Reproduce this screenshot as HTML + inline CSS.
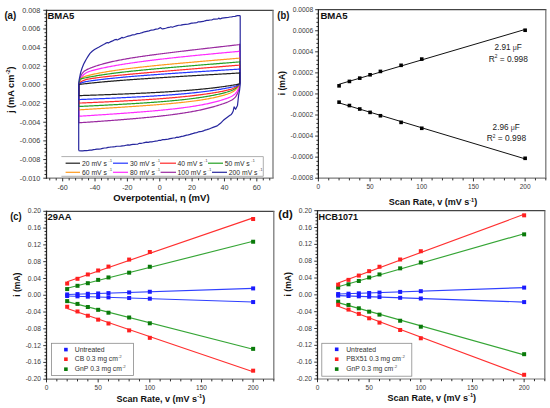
<!DOCTYPE html>
<html><head><meta charset="utf-8"><style>
html,body{margin:0;padding:0;background:#fff;}
svg{display:block;font-family:"Liberation Sans", sans-serif;}
</style></head><body>
<svg width="550" height="408" viewBox="0 0 550 408">
<rect width="550" height="408" fill="#fff"/>
<path d="M46.5 10.3H273.6" stroke="#444" stroke-width="1.2" fill="none"/>
<path d="M273 10.3V178.2" stroke="#7a7a7a" stroke-width="1.3" fill="none"/>
<path d="M46.5 178.2H273.6" stroke="#7a7a7a" stroke-width="1.2" fill="none"/>
<path d="M46.5 9.7V178.8" stroke="#222" stroke-width="1.25" fill="none"/>
<text x="40.3" y="180.58" font-size="7.9" text-anchor="end" font-weight="normal" fill="#3a3a3a" textLength="20.55" lengthAdjust="spacingAndGlyphs">-0.010</text>
<text x="40.3" y="161.92" font-size="7.9" text-anchor="end" font-weight="normal" fill="#3a3a3a" textLength="20.55" lengthAdjust="spacingAndGlyphs">-0.008</text>
<text x="40.3" y="143.27" font-size="7.9" text-anchor="end" font-weight="normal" fill="#3a3a3a" textLength="20.55" lengthAdjust="spacingAndGlyphs">-0.006</text>
<text x="40.3" y="124.61" font-size="7.9" text-anchor="end" font-weight="normal" fill="#3a3a3a" textLength="20.55" lengthAdjust="spacingAndGlyphs">-0.004</text>
<text x="40.3" y="105.96" font-size="7.9" text-anchor="end" font-weight="normal" fill="#3a3a3a" textLength="20.55" lengthAdjust="spacingAndGlyphs">-0.002</text>
<text x="40.3" y="87.3" font-size="7.9" text-anchor="end" font-weight="normal" fill="#3a3a3a" textLength="18.14" lengthAdjust="spacingAndGlyphs">0.000</text>
<text x="40.3" y="68.64" font-size="7.9" text-anchor="end" font-weight="normal" fill="#3a3a3a" textLength="18.14" lengthAdjust="spacingAndGlyphs">0.002</text>
<text x="40.3" y="49.99" font-size="7.9" text-anchor="end" font-weight="normal" fill="#3a3a3a" textLength="18.14" lengthAdjust="spacingAndGlyphs">0.004</text>
<text x="40.3" y="31.33" font-size="7.9" text-anchor="end" font-weight="normal" fill="#3a3a3a" textLength="18.14" lengthAdjust="spacingAndGlyphs">0.006</text>
<text x="40.3" y="12.68" font-size="7.9" text-anchor="end" font-weight="normal" fill="#3a3a3a" textLength="18.14" lengthAdjust="spacingAndGlyphs">0.008</text>
<path d="M43.3 178.2H46.5M44.5 174.47H46.5M44.5 170.74H46.5M44.5 167.01H46.5M44.5 163.28H46.5M43.3 159.54H46.5M44.5 155.81H46.5M44.5 152.08H46.5M44.5 148.35H46.5M44.5 144.62H46.5M43.3 140.89H46.5M44.5 137.16H46.5M44.5 133.43H46.5M44.5 129.7H46.5M44.5 125.96H46.5M43.3 122.23H46.5M44.5 118.5H46.5M44.5 114.77H46.5M44.5 111.04H46.5M44.5 107.31H46.5M43.3 103.58H46.5M44.5 99.85H46.5M44.5 96.12H46.5M44.5 92.38H46.5M44.5 88.65H46.5M43.3 84.92H46.5M44.5 81.19H46.5M44.5 77.46H46.5M44.5 73.73H46.5M44.5 70H46.5M43.3 66.27H46.5M44.5 62.54H46.5M44.5 58.8H46.5M44.5 55.07H46.5M44.5 51.34H46.5M43.3 47.61H46.5M44.5 43.88H46.5M44.5 40.15H46.5M44.5 36.42H46.5M44.5 32.69H46.5M43.3 28.96H46.5M44.5 25.22H46.5M44.5 21.49H46.5M44.5 17.76H46.5M44.5 14.03H46.5M43.3 10.3H46.5" stroke="#1a1a1a" stroke-width="0.9"/>
<text x="57.48" y="189.9" font-size="7.8" text-anchor="start" font-weight="normal" fill="#3a3a3a" textLength="10.4" lengthAdjust="spacingAndGlyphs">-60</text>
<text x="89.83" y="189.9" font-size="7.8" text-anchor="start" font-weight="normal" fill="#3a3a3a" textLength="10.4" lengthAdjust="spacingAndGlyphs">-40</text>
<text x="122.19" y="189.9" font-size="7.8" text-anchor="start" font-weight="normal" fill="#3a3a3a" textLength="10.4" lengthAdjust="spacingAndGlyphs">-20</text>
<text x="157.75" y="189.9" font-size="7.8" text-anchor="start" font-weight="normal" fill="#3a3a3a" textLength="4" lengthAdjust="spacingAndGlyphs">0</text>
<text x="188.1" y="189.9" font-size="7.8" text-anchor="start" font-weight="normal" fill="#3a3a3a" textLength="8.01" lengthAdjust="spacingAndGlyphs">20</text>
<text x="220.46" y="189.9" font-size="7.8" text-anchor="start" font-weight="normal" fill="#3a3a3a" textLength="8.01" lengthAdjust="spacingAndGlyphs">40</text>
<text x="252.82" y="189.9" font-size="7.8" text-anchor="start" font-weight="normal" fill="#3a3a3a" textLength="8.01" lengthAdjust="spacingAndGlyphs">60</text>
<path d="M62.68 178.2V181.4M95.04 178.2V181.4M127.39 178.2V181.4M159.75 178.2V181.4M192.11 178.2V181.4M224.46 178.2V181.4M256.82 178.2V181.4M49.74 178.2V180.4M56.21 178.2V180.4M69.15 178.2V180.4M75.62 178.2V180.4M82.09 178.2V180.4M88.56 178.2V180.4M101.51 178.2V180.4M107.98 178.2V180.4M114.45 178.2V180.4M120.92 178.2V180.4M133.86 178.2V180.4M140.34 178.2V180.4M146.81 178.2V180.4M153.28 178.2V180.4M166.22 178.2V180.4M172.69 178.2V180.4M179.16 178.2V180.4M185.64 178.2V180.4M198.58 178.2V180.4M205.05 178.2V180.4M211.52 178.2V180.4M217.99 178.2V180.4M230.94 178.2V180.4M237.41 178.2V180.4M243.88 178.2V180.4M250.35 178.2V180.4M263.29 178.2V180.4M269.76 178.2V180.4" stroke="#1a1a1a" stroke-width="0.9"/>
<polyline points="78.8,122.79 78.8,84.5 79.81,79.32 80.82,76.09 81.83,74.01 82.84,72.59 83.84,71.57 84.85,70.79 85.86,70.16 86.87,69.61 87.88,69.13 88.89,68.68 89.9,68.26 90.91,67.86 91.91,67.47 92.92,67.1 93.93,66.74 94.94,66.39 95.95,66.05 96.96,65.73 97.97,65.41 98.98,65.1 99.98,64.79 100.99,64.5 102,64.21 103.01,63.93 104.02,63.65 105.03,63.39 106.04,63.13 107.05,62.87 108.06,62.62 109.06,62.38 110.07,62.14 111.08,61.9 112.09,61.68 113.1,61.45 114.11,61.23 115.12,61.02 116.13,60.8 117.13,60.6 118.14,60.39 119.15,60.19 120.16,60 121.17,59.81 122.18,59.62 123.19,59.43 124.2,59.25 125.21,59.06 126.21,58.89 127.22,58.71 128.23,58.54 129.24,58.37 130.25,58.2 131.26,58.03 132.27,57.87 133.28,57.71 134.28,57.55 135.29,57.39 136.3,57.23 137.31,57.08 138.32,56.93 139.33,56.77 140.34,56.63 141.35,56.48 142.35,56.33 143.36,56.18 144.37,56.04 145.38,55.9 146.39,55.76 147.4,55.62 148.41,55.48 149.42,55.34 150.43,55.2 151.43,55.06 152.44,54.93 153.45,54.79 154.46,54.66 155.47,54.53 156.48,54.39 157.49,54.26 158.5,54.13 159.5,54 160.51,53.87 161.52,53.74 162.53,53.62 163.54,53.49 164.55,53.36 165.56,53.23 166.57,53.11 167.57,52.98 168.58,52.86 169.59,52.73 170.6,52.61 171.61,52.49 172.62,52.36 173.63,52.24 174.64,52.12 175.65,51.99 176.65,51.87 177.66,51.75 178.67,51.63 179.68,51.51 180.69,51.39 181.7,51.27 182.71,51.15 183.72,51.03 184.72,50.91 185.73,50.79 186.74,50.67 187.75,50.55 188.76,50.43 189.77,50.32 190.78,50.2 191.79,50.08 192.79,49.96 193.8,49.84 194.81,49.73 195.82,49.61 196.83,49.49 197.84,49.37 198.85,49.26 199.86,49.14 200.87,49.02 201.87,48.91 202.88,48.79 203.89,48.67 204.9,48.56 205.91,48.44 206.92,48.33 207.93,48.21 208.94,48.09 209.94,47.98 210.95,47.86 211.96,47.75 212.97,47.63 213.98,47.52 214.99,47.4 216,47.29 217.01,47.17 218.02,47.06 219.02,46.94 220.03,46.83 221.04,46.71 222.05,46.6 223.06,46.48 224.07,46.37 225.08,46.25 226.09,46.14 227.09,46.02 228.1,45.91 229.11,45.79 230.12,45.68 231.13,45.56 232.14,45.45 233.15,45.33 234.16,45.22 235.16,45.1 236.17,44.99 237.18,44.88 238.19,44.76 239.2,44.65 239.7,44.15 239.7,83 239.4,86.47 238.39,90.72 237.38,93.61 236.37,95.63 235.36,97.08 234.35,98.16 233.34,99.02 232.33,99.71 231.32,100.31 230.31,100.83 229.3,101.31 228.29,101.76 227.28,102.18 226.27,102.58 225.26,102.96 224.25,103.34 223.24,103.7 222.23,104.05 221.22,104.39 220.21,104.73 219.2,105.05 218.19,105.37 217.18,105.68 216.17,105.99 215.16,106.29 214.15,106.58 213.14,106.86 212.13,107.14 211.12,107.41 210.11,107.68 209.1,107.94 208.09,108.19 207.08,108.44 206.07,108.69 205.06,108.93 204.05,109.16 203.04,109.39 202.03,109.62 201.02,109.84 200.01,110.05 199,110.26 197.99,110.47 196.98,110.67 195.97,110.87 194.96,111.07 193.95,111.26 192.94,111.45 191.93,111.63 190.92,111.82 189.91,111.99 188.9,112.17 187.89,112.34 186.88,112.51 185.87,112.67 184.86,112.84 183.85,113 182.84,113.15 181.83,113.31 180.82,113.46 179.81,113.61 178.8,113.76 177.79,113.9 176.78,114.05 175.77,114.19 174.76,114.32 173.75,114.46 172.74,114.59 171.73,114.73 170.72,114.86 169.71,114.98 168.7,115.11 167.69,115.24 166.68,115.36 165.67,115.48 164.66,115.6 163.65,115.72 162.64,115.83 161.63,115.95 160.62,116.06 159.61,116.18 158.59,116.29 157.58,116.4 156.57,116.5 155.56,116.61 154.55,116.72 153.54,116.82 152.53,116.93 151.52,117.03 150.51,117.13 149.5,117.23 148.49,117.33 147.48,117.43 146.47,117.52 145.46,117.62 144.45,117.72 143.44,117.81 142.43,117.91 141.42,118 140.41,118.09 139.4,118.18 138.39,118.27 137.38,118.36 136.37,118.45 135.36,118.54 134.35,118.63 133.34,118.71 132.33,118.8 131.32,118.89 130.31,118.97 129.3,119.05 128.29,119.14 127.28,119.22 126.27,119.3 125.26,119.39 124.25,119.47 123.24,119.55 122.23,119.63 121.22,119.71 120.21,119.79 119.2,119.87 118.19,119.95 117.18,120.03 116.17,120.11 115.16,120.18 114.15,120.26 113.14,120.34 112.13,120.41 111.12,120.49 110.11,120.57 109.1,120.64 108.09,120.72 107.08,120.79 106.07,120.87 105.06,120.94 104.05,121.02 103.04,121.09 102.03,121.16 101.02,121.24 100.01,121.31 99,121.38 97.99,121.45 96.98,121.53 95.97,121.6 94.96,121.67 93.95,121.74 92.94,121.81 91.93,121.88 90.92,121.95 89.91,122.03 88.9,122.1 87.89,122.17 86.88,122.24 85.87,122.31 84.86,122.38 83.85,122.45 82.84,122.52 81.83,122.58 80.82,122.65 79.81,122.72 78.8,122.79" fill="none" stroke="#9a2aa0" stroke-width="1.2" stroke-linejoin="round"/>
<polyline points="78.8,116.28 78.8,84.5 79.81,81.15 80.82,78.7 81.83,76.9 82.84,75.54 83.84,74.5 84.85,73.69 85.86,73.03 86.87,72.49 87.88,72.03 88.89,71.64 89.9,71.28 90.91,70.95 91.91,70.65 92.92,70.37 93.93,70.1 94.94,69.84 95.95,69.58 96.96,69.34 97.97,69.1 98.98,68.87 99.98,68.64 100.99,68.42 102,68.2 103.01,67.98 104.02,67.77 105.03,67.56 106.04,67.35 107.05,67.15 108.06,66.95 109.06,66.75 110.07,66.56 111.08,66.37 112.09,66.18 113.1,65.99 114.11,65.81 115.12,65.63 116.13,65.45 117.13,65.27 118.14,65.1 119.15,64.93 120.16,64.76 121.17,64.59 122.18,64.42 123.19,64.26 124.2,64.1 125.21,63.94 126.21,63.78 127.22,63.63 128.23,63.47 129.24,63.32 130.25,63.17 131.26,63.02 132.27,62.87 133.28,62.72 134.28,62.58 135.29,62.43 136.3,62.29 137.31,62.15 138.32,62.01 139.33,61.87 140.34,61.74 141.35,61.6 142.35,61.47 143.36,61.33 144.37,61.2 145.38,61.07 146.39,60.94 147.4,60.81 148.41,60.69 149.42,60.56 150.43,60.43 151.43,60.31 152.44,60.18 153.45,60.06 154.46,59.94 155.47,59.82 156.48,59.7 157.49,59.58 158.5,59.46 159.5,59.34 160.51,59.22 161.52,59.11 162.53,58.99 163.54,58.88 164.55,58.76 165.56,58.65 166.57,58.53 167.57,58.42 168.58,58.31 169.59,58.2 170.6,58.09 171.61,57.98 172.62,57.87 173.63,57.76 174.64,57.65 175.65,57.54 176.65,57.43 177.66,57.33 178.67,57.22 179.68,57.11 180.69,57.01 181.7,56.9 182.71,56.8 183.72,56.69 184.72,56.59 185.73,56.48 186.74,56.38 187.75,56.28 188.76,56.18 189.77,56.07 190.78,55.97 191.79,55.87 192.79,55.77 193.8,55.67 194.81,55.57 195.82,55.47 196.83,55.37 197.84,55.27 198.85,55.17 199.86,55.07 200.87,54.97 201.87,54.87 202.88,54.77 203.89,54.67 204.9,54.57 205.91,54.48 206.92,54.38 207.93,54.28 208.94,54.18 209.94,54.09 210.95,53.99 211.96,53.89 212.97,53.8 213.98,53.7 214.99,53.6 216,53.51 217.01,53.41 218.02,53.32 219.02,53.22 220.03,53.13 221.04,53.03 222.05,52.94 223.06,52.84 224.07,52.75 225.08,52.65 226.09,52.56 227.09,52.46 228.1,52.37 229.11,52.28 230.12,52.18 231.13,52.09 232.14,51.99 233.15,51.9 234.16,51.81 235.16,51.71 236.17,51.62 237.18,51.53 238.19,51.44 239.2,51.34 239.7,50.84 239.7,83 239.4,85.49 238.39,88.63 237.38,90.84 236.37,92.45 235.36,93.65 234.35,94.58 233.34,95.32 232.33,95.95 231.32,96.49 230.31,96.97 229.3,97.41 228.29,97.82 227.28,98.21 226.27,98.58 225.26,98.93 224.25,99.27 223.24,99.6 222.23,99.91 221.22,100.22 220.21,100.52 219.2,100.81 218.19,101.1 217.18,101.38 216.17,101.64 215.16,101.91 214.15,102.16 213.14,102.41 212.13,102.66 211.12,102.9 210.11,103.13 209.1,103.35 208.09,103.58 207.08,103.79 206.07,104 205.06,104.21 204.05,104.41 203.04,104.61 202.03,104.8 201.02,104.99 200.01,105.17 199,105.35 197.99,105.53 196.98,105.7 195.97,105.87 194.96,106.04 193.95,106.2 192.94,106.36 191.93,106.52 190.92,106.67 189.91,106.82 188.9,106.97 187.89,107.11 186.88,107.25 185.87,107.39 184.86,107.53 183.85,107.66 182.84,107.8 181.83,107.93 180.82,108.05 179.81,108.18 178.8,108.3 177.79,108.42 176.78,108.54 175.77,108.66 174.76,108.78 173.75,108.89 172.74,109 171.73,109.12 170.72,109.22 169.71,109.33 168.7,109.44 167.69,109.54 166.68,109.65 165.67,109.75 164.66,109.85 163.65,109.95 162.64,110.05 161.63,110.15 160.62,110.24 159.61,110.34 158.59,110.43 157.58,110.53 156.57,110.62 155.56,110.71 154.55,110.8 153.54,110.89 152.53,110.98 151.52,111.07 150.51,111.15 149.5,111.24 148.49,111.33 147.48,111.41 146.47,111.49 145.46,111.58 144.45,111.66 143.44,111.74 142.43,111.82 141.42,111.91 140.41,111.99 139.4,112.07 138.39,112.14 137.38,112.22 136.37,112.3 135.36,112.38 134.35,112.46 133.34,112.53 132.33,112.61 131.32,112.69 130.31,112.76 129.3,112.84 128.29,112.91 127.28,112.98 126.27,113.06 125.26,113.13 124.25,113.21 123.24,113.28 122.23,113.35 121.22,113.42 120.21,113.5 119.2,113.57 118.19,113.64 117.18,113.71 116.17,113.78 115.16,113.85 114.15,113.92 113.14,113.99 112.13,114.06 111.12,114.13 110.11,114.2 109.1,114.27 108.09,114.34 107.08,114.41 106.07,114.48 105.06,114.55 104.05,114.62 103.04,114.68 102.03,114.75 101.02,114.82 100.01,114.89 99,114.96 97.99,115.02 96.98,115.09 95.97,115.16 94.96,115.22 93.95,115.29 92.94,115.36 91.93,115.42 90.92,115.49 89.91,115.56 88.9,115.62 87.89,115.69 86.88,115.76 85.87,115.82 84.86,115.89 83.85,115.96 82.84,116.02 81.83,116.09 80.82,116.15 79.81,116.22 78.8,116.28" fill="none" stroke="#ff2cff" stroke-width="1.2" stroke-linejoin="round"/>
<polyline points="78.8,109.87 78.8,84.5 79.81,81.16 80.82,79.25 81.83,78.1 82.84,77.36 83.84,76.84 84.85,76.45 85.86,76.12 86.87,75.83 87.88,75.56 88.89,75.31 89.9,75.07 90.91,74.84 91.91,74.61 92.92,74.39 93.93,74.17 94.94,73.96 95.95,73.75 96.96,73.55 97.97,73.35 98.98,73.15 99.98,72.96 100.99,72.77 102,72.58 103.01,72.4 104.02,72.22 105.03,72.04 106.04,71.87 107.05,71.7 108.06,71.53 109.06,71.36 110.07,71.2 111.08,71.04 112.09,70.88 113.1,70.73 114.11,70.57 115.12,70.42 116.13,70.27 117.13,70.13 118.14,69.98 119.15,69.84 120.16,69.7 121.17,69.56 122.18,69.42 123.19,69.29 124.2,69.16 125.21,69.02 126.21,68.89 127.22,68.76 128.23,68.64 129.24,68.51 130.25,68.39 131.26,68.26 132.27,68.14 133.28,68.02 134.28,67.9 135.29,67.78 136.3,67.66 137.31,67.55 138.32,67.43 139.33,67.32 140.34,67.21 141.35,67.09 142.35,66.98 143.36,66.87 144.37,66.76 145.38,66.65 146.39,66.55 147.4,66.44 148.41,66.33 149.42,66.23 150.43,66.12 151.43,66.02 152.44,65.91 153.45,65.81 154.46,65.71 155.47,65.61 156.48,65.51 157.49,65.41 158.5,65.31 159.5,65.21 160.51,65.11 161.52,65.01 162.53,64.91 163.54,64.81 164.55,64.72 165.56,64.62 166.57,64.52 167.57,64.43 168.58,64.33 169.59,64.24 170.6,64.14 171.61,64.05 172.62,63.96 173.63,63.86 174.64,63.77 175.65,63.68 176.65,63.58 177.66,63.49 178.67,63.4 179.68,63.31 180.69,63.22 181.7,63.13 182.71,63.03 183.72,62.94 184.72,62.85 185.73,62.76 186.74,62.67 187.75,62.58 188.76,62.49 189.77,62.4 190.78,62.32 191.79,62.23 192.79,62.14 193.8,62.05 194.81,61.96 195.82,61.87 196.83,61.78 197.84,61.7 198.85,61.61 199.86,61.52 200.87,61.43 201.87,61.35 202.88,61.26 203.89,61.17 204.9,61.09 205.91,61 206.92,60.91 207.93,60.82 208.94,60.74 209.94,60.65 210.95,60.57 211.96,60.48 212.97,60.39 213.98,60.31 214.99,60.22 216,60.14 217.01,60.05 218.02,59.96 219.02,59.88 220.03,59.79 221.04,59.71 222.05,59.62 223.06,59.54 224.07,59.45 225.08,59.37 226.09,59.28 227.09,59.2 228.1,59.11 229.11,59.03 230.12,58.94 231.13,58.86 232.14,58.77 233.15,58.69 234.16,58.6 235.16,58.52 236.17,58.43 237.18,58.35 238.19,58.26 239.2,58.18 239.7,57.68 239.7,83 239.4,84.38 238.39,86.27 237.38,87.75 236.37,88.94 235.36,89.91 234.35,90.71 233.34,91.38 232.33,91.97 231.32,92.48 230.31,92.94 229.3,93.36 228.29,93.75 227.28,94.11 226.27,94.44 225.26,94.76 224.25,95.07 223.24,95.36 222.23,95.64 221.22,95.92 220.21,96.18 219.2,96.43 218.19,96.68 217.18,96.92 216.17,97.15 215.16,97.37 214.15,97.59 213.14,97.8 212.13,98.01 211.12,98.21 210.11,98.41 209.1,98.6 208.09,98.79 207.08,98.97 206.07,99.15 205.06,99.33 204.05,99.5 203.04,99.66 202.03,99.82 201.02,99.98 200.01,100.14 199,100.29 197.99,100.44 196.98,100.58 195.97,100.72 194.96,100.86 193.95,101 192.94,101.13 191.93,101.26 190.92,101.39 189.91,101.52 188.9,101.64 187.89,101.76 186.88,101.88 185.87,102 184.86,102.11 183.85,102.23 182.84,102.34 181.83,102.45 180.82,102.55 179.81,102.66 178.8,102.76 177.79,102.87 176.78,102.97 175.77,103.07 174.76,103.17 173.75,103.26 172.74,103.36 171.73,103.45 170.72,103.54 169.71,103.64 168.7,103.73 167.69,103.82 166.68,103.91 165.67,103.99 164.66,104.08 163.65,104.16 162.64,104.25 161.63,104.33 160.62,104.42 159.61,104.5 158.59,104.58 157.58,104.66 156.57,104.74 155.56,104.82 154.55,104.9 153.54,104.98 152.53,105.05 151.52,105.13 150.51,105.2 149.5,105.28 148.49,105.35 147.48,105.43 146.47,105.5 145.46,105.58 144.45,105.65 143.44,105.72 142.43,105.79 141.42,105.86 140.41,105.94 139.4,106.01 138.39,106.08 137.38,106.15 136.37,106.22 135.36,106.29 134.35,106.35 133.34,106.42 132.33,106.49 131.32,106.56 130.31,106.63 129.3,106.69 128.29,106.76 127.28,106.83 126.27,106.9 125.26,106.96 124.25,107.03 123.24,107.09 122.23,107.16 121.22,107.23 120.21,107.29 119.2,107.36 118.19,107.42 117.18,107.49 116.17,107.55 115.16,107.61 114.15,107.68 113.14,107.74 112.13,107.81 111.12,107.87 110.11,107.94 109.1,108 108.09,108.06 107.08,108.13 106.07,108.19 105.06,108.25 104.05,108.32 103.04,108.38 102.03,108.44 101.02,108.5 100.01,108.57 99,108.63 97.99,108.69 96.98,108.75 95.97,108.82 94.96,108.88 93.95,108.94 92.94,109 91.93,109.06 90.92,109.13 89.91,109.19 88.9,109.25 87.89,109.31 86.88,109.37 85.87,109.44 84.86,109.5 83.85,109.56 82.84,109.62 81.83,109.68 80.82,109.74 79.81,109.8 78.8,109.87" fill="none" stroke="#ff9a1e" stroke-width="1.2" stroke-linejoin="round"/>
<polyline points="78.8,106.47 78.8,84.5 79.81,79.28 80.82,78.87 81.83,78.63 82.84,78.41 83.84,78.19 84.85,77.97 85.86,77.76 86.87,77.55 87.88,77.35 88.89,77.15 89.9,76.96 90.91,76.77 91.91,76.58 92.92,76.4 93.93,76.22 94.94,76.04 95.95,75.87 96.96,75.7 97.97,75.53 98.98,75.37 99.98,75.21 100.99,75.05 102,74.89 103.01,74.74 104.02,74.59 105.03,74.44 106.04,74.29 107.05,74.15 108.06,74.01 109.06,73.87 110.07,73.73 111.08,73.6 112.09,73.46 113.1,73.33 114.11,73.2 115.12,73.07 116.13,72.95 117.13,72.82 118.14,72.7 119.15,72.58 120.16,72.46 121.17,72.34 122.18,72.22 123.19,72.1 124.2,71.99 125.21,71.87 126.21,71.76 127.22,71.65 128.23,71.54 129.24,71.43 130.25,71.32 131.26,71.21 132.27,71.1 133.28,71 134.28,70.89 135.29,70.79 136.3,70.69 137.31,70.58 138.32,70.48 139.33,70.38 140.34,70.28 141.35,70.18 142.35,70.08 143.36,69.98 144.37,69.89 145.38,69.79 146.39,69.69 147.4,69.6 148.41,69.5 149.42,69.41 150.43,69.31 151.43,69.22 152.44,69.13 153.45,69.04 154.46,68.94 155.47,68.85 156.48,68.76 157.49,68.67 158.5,68.58 159.5,68.49 160.51,68.4 161.52,68.31 162.53,68.22 163.54,68.13 164.55,68.04 165.56,67.95 166.57,67.87 167.57,67.78 168.58,67.69 169.59,67.61 170.6,67.52 171.61,67.43 172.62,67.35 173.63,67.26 174.64,67.17 175.65,67.09 176.65,67 177.66,66.92 178.67,66.83 179.68,66.75 180.69,66.66 181.7,66.58 182.71,66.5 183.72,66.41 184.72,66.33 185.73,66.24 186.74,66.16 187.75,66.08 188.76,65.99 189.77,65.91 190.78,65.83 191.79,65.75 192.79,65.66 193.8,65.58 194.81,65.5 195.82,65.41 196.83,65.33 197.84,65.25 198.85,65.17 199.86,65.09 200.87,65 201.87,64.92 202.88,64.84 203.89,64.76 204.9,64.68 205.91,64.6 206.92,64.52 207.93,64.43 208.94,64.35 209.94,64.27 210.95,64.19 211.96,64.11 212.97,64.03 213.98,63.95 214.99,63.87 216,63.79 217.01,63.71 218.02,63.62 219.02,63.54 220.03,63.46 221.04,63.38 222.05,63.3 223.06,63.22 224.07,63.14 225.08,63.06 226.09,62.98 227.09,62.9 228.1,62.82 229.11,62.74 230.12,62.66 231.13,62.58 232.14,62.5 233.15,62.42 234.16,62.34 235.16,62.26 236.17,62.18 237.18,62.1 238.19,62.02 239.2,61.94 239.7,61.44 239.7,83 239.4,84.07 238.39,85.55 237.38,86.73 236.37,87.68 235.36,88.47 234.35,89.12 233.34,89.68 232.33,90.17 231.32,90.61 230.31,91 229.3,91.35 228.29,91.68 227.28,92 226.27,92.29 225.26,92.57 224.25,92.84 223.24,93.09 222.23,93.34 221.22,93.58 220.21,93.82 219.2,94.05 218.19,94.27 217.18,94.49 216.17,94.7 215.16,94.91 214.15,95.11 213.14,95.3 212.13,95.5 211.12,95.69 210.11,95.87 209.1,96.05 208.09,96.23 207.08,96.4 206.07,96.57 205.06,96.74 204.05,96.9 203.04,97.06 202.03,97.22 201.02,97.37 200.01,97.52 199,97.67 197.99,97.82 196.98,97.96 195.97,98.1 194.96,98.24 193.95,98.37 192.94,98.5 191.93,98.63 190.92,98.76 189.91,98.88 188.9,99.01 187.89,99.13 186.88,99.24 185.87,99.36 184.86,99.48 183.85,99.59 182.84,99.7 181.83,99.81 180.82,99.91 179.81,100.02 178.8,100.12 177.79,100.23 176.78,100.33 175.77,100.42 174.76,100.52 173.75,100.62 172.74,100.71 171.73,100.81 170.72,100.9 169.71,100.99 168.7,101.08 167.69,101.16 166.68,101.25 165.67,101.34 164.66,101.42 163.65,101.5 162.64,101.59 161.63,101.67 160.62,101.75 159.61,101.83 158.59,101.91 157.58,101.98 156.57,102.06 155.56,102.14 154.55,102.21 153.54,102.28 152.53,102.36 151.52,102.43 150.51,102.5 149.5,102.57 148.49,102.64 147.48,102.71 146.47,102.78 145.46,102.85 144.45,102.91 143.44,102.98 142.43,103.05 141.42,103.11 140.41,103.18 139.4,103.24 138.39,103.31 137.38,103.37 136.37,103.43 135.36,103.49 134.35,103.56 133.34,103.62 132.33,103.68 131.32,103.74 130.31,103.8 129.3,103.86 128.29,103.92 127.28,103.97 126.27,104.03 125.26,104.09 124.25,104.15 123.24,104.2 122.23,104.26 121.22,104.32 120.21,104.37 119.2,104.43 118.19,104.49 117.18,104.54 116.17,104.59 115.16,104.65 114.15,104.7 113.14,104.76 112.13,104.81 111.12,104.86 110.11,104.92 109.1,104.97 108.09,105.02 107.08,105.08 106.07,105.13 105.06,105.18 104.05,105.23 103.04,105.28 102.03,105.33 101.02,105.39 100.01,105.44 99,105.49 97.99,105.54 96.98,105.59 95.97,105.64 94.96,105.69 93.95,105.74 92.94,105.79 91.93,105.84 90.92,105.89 89.91,105.94 88.9,105.99 87.89,106.03 86.88,106.08 85.87,106.13 84.86,106.18 83.85,106.23 82.84,106.28 81.83,106.33 80.82,106.37 79.81,106.42 78.8,106.47" fill="none" stroke="#23a023" stroke-width="1.2" stroke-linejoin="round"/>
<polyline points="78.8,103.11 78.8,84.5 79.81,83.11 80.82,82.1 81.83,81.34 82.84,80.76 83.84,80.31 84.85,79.95 85.86,79.65 86.87,79.4 87.88,79.18 88.89,78.98 89.9,78.8 90.91,78.63 91.91,78.47 92.92,78.32 93.93,78.18 94.94,78.04 95.95,77.9 96.96,77.77 97.97,77.63 98.98,77.51 99.98,77.38 100.99,77.26 102,77.13 103.01,77.01 104.02,76.89 105.03,76.78 106.04,76.66 107.05,76.55 108.06,76.44 109.06,76.33 110.07,76.22 111.08,76.11 112.09,76 113.1,75.89 114.11,75.79 115.12,75.68 116.13,75.58 117.13,75.48 118.14,75.38 119.15,75.27 120.16,75.17 121.17,75.08 122.18,74.98 123.19,74.88 124.2,74.78 125.21,74.69 126.21,74.59 127.22,74.5 128.23,74.4 129.24,74.31 130.25,74.21 131.26,74.12 132.27,74.03 133.28,73.94 134.28,73.85 135.29,73.75 136.3,73.66 137.31,73.57 138.32,73.48 139.33,73.39 140.34,73.3 141.35,73.22 142.35,73.13 143.36,73.04 144.37,72.95 145.38,72.86 146.39,72.78 147.4,72.69 148.41,72.6 149.42,72.52 150.43,72.43 151.43,72.34 152.44,72.26 153.45,72.17 154.46,72.08 155.47,72 156.48,71.91 157.49,71.83 158.5,71.74 159.5,71.66 160.51,71.57 161.52,71.49 162.53,71.41 163.54,71.32 164.55,71.24 165.56,71.15 166.57,71.07 167.57,70.98 168.58,70.9 169.59,70.82 170.6,70.73 171.61,70.65 172.62,70.57 173.63,70.48 174.64,70.4 175.65,70.32 176.65,70.23 177.66,70.15 178.67,70.07 179.68,69.98 180.69,69.9 181.7,69.82 182.71,69.74 183.72,69.65 184.72,69.57 185.73,69.49 186.74,69.41 187.75,69.32 188.76,69.24 189.77,69.16 190.78,69.08 191.79,68.99 192.79,68.91 193.8,68.83 194.81,68.75 195.82,68.67 196.83,68.58 197.84,68.5 198.85,68.42 199.86,68.34 200.87,68.25 201.87,68.17 202.88,68.09 203.89,68.01 204.9,67.93 205.91,67.84 206.92,67.76 207.93,67.68 208.94,67.6 209.94,67.52 210.95,67.44 211.96,67.35 212.97,67.27 213.98,67.19 214.99,67.11 216,67.03 217.01,66.94 218.02,66.86 219.02,66.78 220.03,66.7 221.04,66.62 222.05,66.54 223.06,66.45 224.07,66.37 225.08,66.29 226.09,66.21 227.09,66.13 228.1,66.05 229.11,65.96 230.12,65.88 231.13,65.8 232.14,65.72 233.15,65.64 234.16,65.56 235.16,65.47 236.17,65.39 237.18,65.31 238.19,65.23 239.2,65.15 239.7,64.65 239.7,83 239.4,83.82 238.39,84.98 237.38,85.91 236.37,86.68 235.36,87.31 234.35,87.85 233.34,88.31 232.33,88.71 231.32,89.07 230.31,89.39 229.3,89.68 228.29,89.95 227.28,90.21 226.27,90.44 225.26,90.67 224.25,90.89 223.24,91.1 222.23,91.3 221.22,91.5 220.21,91.69 219.2,91.88 218.19,92.06 217.18,92.24 216.17,92.42 215.16,92.59 214.15,92.76 213.14,92.92 212.13,93.08 211.12,93.24 210.11,93.4 209.1,93.55 208.09,93.7 207.08,93.85 206.07,94 205.06,94.14 204.05,94.28 203.04,94.42 202.03,94.56 201.02,94.69 200.01,94.82 199,94.95 197.99,95.08 196.98,95.2 195.97,95.33 194.96,95.45 193.95,95.57 192.94,95.69 191.93,95.8 190.92,95.92 189.91,96.03 188.9,96.14 187.89,96.25 186.88,96.36 185.87,96.46 184.86,96.57 183.85,96.67 182.84,96.77 181.83,96.87 180.82,96.97 179.81,97.07 178.8,97.16 177.79,97.26 176.78,97.35 175.77,97.44 174.76,97.53 173.75,97.62 172.74,97.71 171.73,97.8 170.72,97.89 169.71,97.97 168.7,98.05 167.69,98.14 166.68,98.22 165.67,98.3 164.66,98.38 163.65,98.46 162.64,98.54 161.63,98.61 160.62,98.69 159.61,98.77 158.59,98.84 157.58,98.91 156.57,98.99 155.56,99.06 154.55,99.13 153.54,99.2 152.53,99.27 151.52,99.34 150.51,99.41 149.5,99.47 148.49,99.54 147.48,99.61 146.47,99.67 145.46,99.74 144.45,99.8 143.44,99.86 142.43,99.93 141.42,99.99 140.41,100.05 139.4,100.11 138.39,100.17 137.38,100.23 136.37,100.29 135.36,100.35 134.35,100.41 133.34,100.47 132.33,100.53 131.32,100.58 130.31,100.64 129.3,100.7 128.29,100.75 127.28,100.81 126.27,100.86 125.26,100.92 124.25,100.97 123.24,101.03 122.23,101.08 121.22,101.13 120.21,101.18 119.2,101.24 118.19,101.29 117.18,101.34 116.17,101.39 115.16,101.44 114.15,101.49 113.14,101.54 112.13,101.59 111.12,101.64 110.11,101.69 109.1,101.74 108.09,101.79 107.08,101.84 106.07,101.89 105.06,101.94 104.05,101.98 103.04,102.03 102.03,102.08 101.02,102.12 100.01,102.17 99,102.22 97.99,102.26 96.98,102.31 95.97,102.36 94.96,102.4 93.95,102.45 92.94,102.49 91.93,102.54 90.92,102.58 89.91,102.63 88.9,102.67 87.89,102.72 86.88,102.76 85.87,102.81 84.86,102.85 83.85,102.89 82.84,102.94 81.83,102.98 80.82,103.02 79.81,103.07 78.8,103.11" fill="none" stroke="#ff2a2a" stroke-width="1.2" stroke-linejoin="round"/>
<polyline points="78.8,99.59 78.8,84.5 79.81,83.68 80.82,83.11 81.83,82.68 82.84,82.36 83.84,82.09 84.85,81.87 85.86,81.67 86.87,81.49 87.88,81.32 88.89,81.16 89.9,81 90.91,80.85 91.91,80.71 92.92,80.57 93.93,80.43 94.94,80.29 95.95,80.16 96.96,80.03 97.97,79.9 98.98,79.77 99.98,79.64 100.99,79.52 102,79.4 103.01,79.28 104.02,79.16 105.03,79.05 106.04,78.94 107.05,78.82 108.06,78.71 109.06,78.6 110.07,78.5 111.08,78.39 112.09,78.28 113.1,78.18 114.11,78.08 115.12,77.98 116.13,77.88 117.13,77.78 118.14,77.68 119.15,77.59 120.16,77.49 121.17,77.4 122.18,77.3 123.19,77.21 124.2,77.12 125.21,77.03 126.21,76.94 127.22,76.85 128.23,76.77 129.24,76.68 130.25,76.59 131.26,76.51 132.27,76.42 133.28,76.34 134.28,76.25 135.29,76.17 136.3,76.09 137.31,76.01 138.32,75.93 139.33,75.85 140.34,75.77 141.35,75.69 142.35,75.61 143.36,75.53 144.37,75.45 145.38,75.38 146.39,75.3 147.4,75.22 148.41,75.15 149.42,75.07 150.43,75 151.43,74.92 152.44,74.85 153.45,74.78 154.46,74.7 155.47,74.63 156.48,74.56 157.49,74.48 158.5,74.41 159.5,74.34 160.51,74.27 161.52,74.2 162.53,74.13 163.54,74.06 164.55,73.98 165.56,73.91 166.57,73.84 167.57,73.77 168.58,73.71 169.59,73.64 170.6,73.57 171.61,73.5 172.62,73.43 173.63,73.36 174.64,73.29 175.65,73.22 176.65,73.16 177.66,73.09 178.67,73.02 179.68,72.95 180.69,72.89 181.7,72.82 182.71,72.75 183.72,72.68 184.72,72.62 185.73,72.55 186.74,72.48 187.75,72.42 188.76,72.35 189.77,72.29 190.78,72.22 191.79,72.15 192.79,72.09 193.8,72.02 194.81,71.96 195.82,71.89 196.83,71.83 197.84,71.76 198.85,71.69 199.86,71.63 200.87,71.56 201.87,71.5 202.88,71.43 203.89,71.37 204.9,71.3 205.91,71.24 206.92,71.17 207.93,71.11 208.94,71.05 209.94,70.98 210.95,70.92 211.96,70.85 212.97,70.79 213.98,70.72 214.99,70.66 216,70.6 217.01,70.53 218.02,70.47 219.02,70.4 220.03,70.34 221.04,70.27 222.05,70.21 223.06,70.15 224.07,70.08 225.08,70.02 226.09,69.96 227.09,69.89 228.1,69.83 229.11,69.76 230.12,69.7 231.13,69.64 232.14,69.57 233.15,69.51 234.16,69.45 235.16,69.38 236.17,69.32 237.18,69.26 238.19,69.19 239.2,69.13 239.7,68.63 239.7,83 239.4,83.82 238.39,84.77 237.38,85.4 236.37,85.85 235.36,86.19 234.35,86.48 233.34,86.74 232.33,86.97 231.32,87.2 230.31,87.41 229.3,87.62 228.29,87.82 227.28,88.02 226.27,88.21 225.26,88.4 224.25,88.58 223.24,88.77 222.23,88.94 221.22,89.12 220.21,89.29 219.2,89.46 218.19,89.62 217.18,89.78 216.17,89.94 215.16,90.1 214.15,90.25 213.14,90.4 212.13,90.55 211.12,90.69 210.11,90.83 209.1,90.97 208.09,91.11 207.08,91.24 206.07,91.37 205.06,91.5 204.05,91.63 203.04,91.76 202.03,91.88 201.02,92 200.01,92.12 199,92.24 197.99,92.35 196.98,92.46 195.97,92.57 194.96,92.68 193.95,92.79 192.94,92.9 191.93,93 190.92,93.1 189.91,93.2 188.9,93.3 187.89,93.4 186.88,93.5 185.87,93.59 184.86,93.68 183.85,93.78 182.84,93.87 181.83,93.96 180.82,94.04 179.81,94.13 178.8,94.22 177.79,94.3 176.78,94.38 175.77,94.46 174.76,94.54 173.75,94.62 172.74,94.7 171.73,94.78 170.72,94.86 169.71,94.93 168.7,95.01 167.69,95.08 166.68,95.15 165.67,95.23 164.66,95.3 163.65,95.37 162.64,95.44 161.63,95.5 160.62,95.57 159.61,95.64 158.59,95.71 157.58,95.77 156.57,95.84 155.56,95.9 154.55,95.96 153.54,96.03 152.53,96.09 151.52,96.15 150.51,96.21 149.5,96.27 148.49,96.33 147.48,96.39 146.47,96.45 145.46,96.51 144.45,96.56 143.44,96.62 142.43,96.68 141.42,96.73 140.41,96.79 139.4,96.84 138.39,96.9 137.38,96.95 136.37,97 135.36,97.06 134.35,97.11 133.34,97.16 132.33,97.21 131.32,97.27 130.31,97.32 129.3,97.37 128.29,97.42 127.28,97.47 126.27,97.52 125.26,97.57 124.25,97.62 123.24,97.67 122.23,97.71 121.22,97.76 120.21,97.81 119.2,97.86 118.19,97.9 117.18,97.95 116.17,98 115.16,98.04 114.15,98.09 113.14,98.14 112.13,98.18 111.12,98.23 110.11,98.27 109.1,98.32 108.09,98.36 107.08,98.41 106.07,98.45 105.06,98.5 104.05,98.54 103.04,98.58 102.03,98.63 101.02,98.67 100.01,98.71 99,98.76 97.99,98.8 96.98,98.84 95.97,98.89 94.96,98.93 93.95,98.97 92.94,99.01 91.93,99.05 90.92,99.1 89.91,99.14 88.9,99.18 87.89,99.22 86.88,99.26 85.87,99.3 84.86,99.34 83.85,99.38 82.84,99.42 81.83,99.47 80.82,99.51 79.81,99.55 78.8,99.59" fill="none" stroke="#2436ff" stroke-width="1.2" stroke-linejoin="round"/>
<polyline points="78.8,95.63 78.8,84.5 79.81,84.37 80.82,84.25 81.83,84.12 82.84,84 83.84,83.88 84.85,83.77 85.86,83.65 86.87,83.54 87.88,83.42 88.89,83.31 89.9,83.2 90.91,83.1 91.91,82.99 92.92,82.89 93.93,82.78 94.94,82.68 95.95,82.58 96.96,82.48 97.97,82.38 98.98,82.28 99.98,82.19 100.99,82.09 102,82 103.01,81.91 104.02,81.82 105.03,81.72 106.04,81.64 107.05,81.55 108.06,81.46 109.06,81.37 110.07,81.29 111.08,81.2 112.09,81.12 113.1,81.03 114.11,80.95 115.12,80.87 116.13,80.79 117.13,80.71 118.14,80.63 119.15,80.55 120.16,80.47 121.17,80.39 122.18,80.31 123.19,80.23 124.2,80.16 125.21,80.08 126.21,80.01 127.22,79.93 128.23,79.86 129.24,79.79 130.25,79.71 131.26,79.64 132.27,79.57 133.28,79.5 134.28,79.42 135.29,79.35 136.3,79.28 137.31,79.21 138.32,79.14 139.33,79.07 140.34,79 141.35,78.94 142.35,78.87 143.36,78.8 144.37,78.73 145.38,78.66 146.39,78.6 147.4,78.53 148.41,78.46 149.42,78.4 150.43,78.33 151.43,78.26 152.44,78.2 153.45,78.13 154.46,78.07 155.47,78 156.48,77.94 157.49,77.88 158.5,77.81 159.5,77.75 160.51,77.68 161.52,77.62 162.53,77.56 163.54,77.49 164.55,77.43 165.56,77.37 166.57,77.3 167.57,77.24 168.58,77.18 169.59,77.12 170.6,77.06 171.61,76.99 172.62,76.93 173.63,76.87 174.64,76.81 175.65,76.75 176.65,76.69 177.66,76.63 178.67,76.56 179.68,76.5 180.69,76.44 181.7,76.38 182.71,76.32 183.72,76.26 184.72,76.2 185.73,76.14 186.74,76.08 187.75,76.02 188.76,75.96 189.77,75.9 190.78,75.84 191.79,75.78 192.79,75.72 193.8,75.66 194.81,75.6 195.82,75.54 196.83,75.48 197.84,75.42 198.85,75.36 199.86,75.3 200.87,75.25 201.87,75.19 202.88,75.13 203.89,75.07 204.9,75.01 205.91,74.95 206.92,74.89 207.93,74.83 208.94,74.77 209.94,74.72 210.95,74.66 211.96,74.6 212.97,74.54 213.98,74.48 214.99,74.42 216,74.36 217.01,74.31 218.02,74.25 219.02,74.19 220.03,74.13 221.04,74.07 222.05,74.02 223.06,73.96 224.07,73.9 225.08,73.84 226.09,73.78 227.09,73.72 228.1,73.67 229.11,73.61 230.12,73.55 231.13,73.49 232.14,73.43 233.15,73.38 234.16,73.32 235.16,73.26 236.17,73.2 237.18,73.15 238.19,73.09 239.2,73.03 239.7,72.53 239.7,83 239.4,83.89 238.39,84.2 237.38,84.38 236.37,84.56 235.36,84.74 234.35,84.91 233.34,85.08 232.33,85.24 231.32,85.41 230.31,85.57 229.3,85.72 228.29,85.88 227.28,86.03 226.27,86.18 225.26,86.33 224.25,86.47 223.24,86.61 222.23,86.75 221.22,86.89 220.21,87.02 219.2,87.16 218.19,87.29 217.18,87.42 216.17,87.54 215.16,87.67 214.15,87.79 213.14,87.91 212.13,88.03 211.12,88.14 210.11,88.26 209.1,88.37 208.09,88.48 207.08,88.59 206.07,88.7 205.06,88.8 204.05,88.91 203.04,89.01 202.03,89.11 201.02,89.21 200.01,89.31 199,89.4 197.99,89.5 196.98,89.59 195.97,89.68 194.96,89.77 193.95,89.86 192.94,89.95 191.93,90.04 190.92,90.12 189.91,90.21 188.9,90.29 187.89,90.37 186.88,90.45 185.87,90.53 184.86,90.61 183.85,90.69 182.84,90.76 181.83,90.84 180.82,90.91 179.81,90.99 178.8,91.06 177.79,91.13 176.78,91.2 175.77,91.27 174.76,91.34 173.75,91.41 172.74,91.48 171.73,91.54 170.72,91.61 169.71,91.67 168.7,91.74 167.69,91.8 166.68,91.86 165.67,91.92 164.66,91.98 163.65,92.05 162.64,92.1 161.63,92.16 160.62,92.22 159.61,92.28 158.59,92.34 157.58,92.39 156.57,92.45 155.56,92.5 154.55,92.56 153.54,92.61 152.53,92.67 151.52,92.72 150.51,92.77 149.5,92.82 148.49,92.87 147.48,92.93 146.47,92.98 145.46,93.03 144.45,93.07 143.44,93.12 142.43,93.17 141.42,93.22 140.41,93.27 139.4,93.32 138.39,93.36 137.38,93.41 136.37,93.45 135.36,93.5 134.35,93.55 133.34,93.59 132.33,93.63 131.32,93.68 130.31,93.72 129.3,93.77 128.29,93.81 127.28,93.85 126.27,93.89 125.26,93.94 124.25,93.98 123.24,94.02 122.23,94.06 121.22,94.1 120.21,94.14 119.2,94.18 118.19,94.22 117.18,94.26 116.17,94.3 115.16,94.34 114.15,94.38 113.14,94.42 112.13,94.46 111.12,94.5 110.11,94.54 109.1,94.57 108.09,94.61 107.08,94.65 106.07,94.69 105.06,94.72 104.05,94.76 103.04,94.8 102.03,94.83 101.02,94.87 100.01,94.91 99,94.94 97.99,94.98 96.98,95.01 95.97,95.05 94.96,95.09 93.95,95.12 92.94,95.16 91.93,95.19 90.92,95.22 89.91,95.26 88.9,95.29 87.89,95.33 86.88,95.36 85.87,95.4 84.86,95.43 83.85,95.46 82.84,95.5 81.83,95.53 80.82,95.56 79.81,95.6 78.8,95.63" fill="none" stroke="#202020" stroke-width="1.2" stroke-linejoin="round"/>
<polyline points="78.7,150.6 78.7,148.98 78.7,147.35 78.7,145.73 78.7,144.1 78.7,142.48 78.7,140.85 78.7,139.23 78.7,137.6 78.7,135.98 78.7,134.36 78.7,132.73 78.7,131.11 78.7,129.48 78.7,127.86 78.7,126.23 78.7,124.61 78.7,122.99 78.7,121.36 78.7,119.74 78.7,118.11 78.7,116.49 78.7,114.86 78.7,113.24 78.7,111.61 78.7,109.99 78.7,108.37 78.7,106.74 78.7,105.12 78.7,103.49 78.7,101.87 78.7,100.24 78.7,98.62 78.7,97 78.7,95.37 78.7,93.75 78.7,92.12 78.7,90.5 78.7,88.87 78.7,87.25 78.7,85.62 78.7,84 78.9,82 79.1,80 79.45,78.25 79.8,76.5 80.3,74.25 80.8,72 81.45,70 82.1,68 82.9,66 83.7,64 84.7,62.1 85.7,60.2 86.85,58.3 88,56.4 89,54.9 90,53.4 92.2,51.3 94.5,49.6 96.8,48.2 99.1,47 101.3,45.7 103.6,44.5 105.5,43.4 107.3,42.5 108.2,43.1 110.2,41.9 112.7,40.9 114.55,39.85 116.4,39.4 117.3,39.9 118.2,39.5 120,38.65 121.8,37.4 123,37.9 124.5,37.5 126.35,36.76 128.2,36.1 130.45,35.61 132.7,34.8 135,34.53 137.3,33.6 140,33.3 142.25,32.58 144.5,31.8 146.8,31.35 149.1,30.9 151.35,30.05 153.6,29.8 155.9,29.14 158.2,28.8 160.5,27.6 162.3,29 163.97,28.57 165.63,28.26 167.3,27.7 169.1,27.46 170.9,26.8 172.3,27.3 174.35,26.52 176.4,25.9 178.65,25.25 180.9,25.2 183.2,24.6 185.5,24.3 187.75,24.24 190,23.6 191.67,23.13 193.33,23.03 195,22.8 196.67,22.77 198.33,21.8 200,21.8 201.67,21.54 203.33,21.45 205,20.8 206.67,20.34 208.33,20.3 210,20 211.67,20.02 213.33,19.21 215,19.2 218,18.8 219,18.1 220,19 222,18.1 224,17.87 226,17.6 228,17.48 230,17 231.67,16.88 233.33,16.51 235,16.3 237.3,15.69 239.6,15.5 240.2,16 240.2,17.64 240.2,19.28 240.2,20.91 240.2,22.55 240.2,24.19 240.2,25.83 240.2,27.47 240.2,29.1 240.2,30.74 240.2,32.38 240.2,34.02 240.2,35.66 240.2,37.3 240.2,38.93 240.2,40.57 240.2,42.21 240.2,43.85 240.2,45.49 240.2,47.12 240.2,48.76 240.2,50.4 240.2,52.04 240.2,53.68 240.2,55.31 240.2,56.95 240.2,58.59 240.2,60.23 240.2,61.87 240.2,63.5 240.2,65.14 240.2,66.78 240.2,68.42 240.2,70.06 240.2,71.7 240.2,73.33 240.2,74.97 240.2,76.61 240.2,78.25 240.2,79.89 240.2,81.52 240.2,83.16 240.2,84.8 240,86.53 239.8,88.27 239.6,90 239.27,91.83 238.93,93.67 238.6,95.5 238.42,97.15 238.23,98.8 238.05,100.45 237.87,102.1 237.68,103.75 237.5,105.4 236.6,107.2 235.6,109.3 234.1,106.9 233.65,108.95 233.2,111 232.2,113.2 231.3,114.4 229.65,115.6 228,116.8 226.67,117.8 225.33,118.8 224,119.8 222.83,120.93 221.67,122.07 220.5,123.2 218.85,124.55 217.2,125.9 215.1,126.64 213,127.4 210.8,128.21 208.6,129.2 206.88,129.66 205.16,130.07 203.44,130.88 201.72,131.31 200,131.6 198.33,131.94 196.67,132.58 195,132.84 193.33,133.43 191.67,133.83 190,134.4 188.33,134.91 186.67,135.11 185,135.57 183.33,136.15 181.67,136.34 180,136.8 178.33,137.4 176.67,137.21 175,137.92 173.33,138.01 171.67,138.33 170,138.7 168.18,139.11 166.36,139.36 164.54,139.6 162.72,139.63 160.9,140.3 159.08,140.28 157.27,140.98 155.45,141.12 153.63,141.5 151.82,141.95 150,141.9 148.18,142.3 146.35,142.14 144.52,142.59 142.7,143 141.08,143.3 139.47,143.28 137.85,144.03 136.23,144.24 134.62,144.41 133,144.4 131.3,144.62 129.6,145.12 127.9,144.86 126.2,145.23 124.5,145.6 122.6,145.79 120.7,146.21 118.8,146.25 116.9,146.23 115,146.7 113.28,146.81 111.56,147.02 109.84,147.22 108.12,147.35 106.4,147.8 104.52,148.02 102.64,148.32 100.76,148.83 98.88,149.13 97,149.2 95.24,149.46 93.48,149.65 91.72,150.11 89.96,150.16 88.2,150.4 86.4,150.53 84.6,150.65 82.8,150.78 81,150.9 78.7,150.6" fill="none" stroke="#27279e" stroke-width="1.2" stroke-linejoin="round"/>
<path d="M61.4 156.6H263.3V176.3H61.4" stroke="#9a9a9a" stroke-width="0.8" fill="none"/>
<path d="M65.6 163.2H80" stroke="#202020" stroke-width="1.2"/>
<text x="82" y="165.5" font-size="6.8" fill="#2a2a2a">20 mV s<tspan font-size="4.4" dy="-3.4" fill="#888"> -</tspan><tspan font-size="4.4" fill="#555">1</tspan></text>
<path d="M113 163.2H128" stroke="#2436ff" stroke-width="1.2"/>
<text x="130" y="165.5" font-size="6.8" fill="#2a2a2a">30 mV s<tspan font-size="4.4" dy="-3.4" fill="#888"> -</tspan><tspan font-size="4.4" fill="#555">1</tspan></text>
<path d="M160 163.2H176" stroke="#ff2a2a" stroke-width="1.2"/>
<text x="177.6" y="165.5" font-size="6.8" fill="#2a2a2a">40 mV s<tspan font-size="4.4" dy="-3.4" fill="#888"> -</tspan><tspan font-size="4.4" fill="#555">1</tspan></text>
<path d="M208 163.2H223" stroke="#23a023" stroke-width="1.2"/>
<text x="224.8" y="165.5" font-size="6.8" fill="#2a2a2a">50 mV s<tspan font-size="4.4" dy="-3.4" fill="#888"> -</tspan><tspan font-size="4.4" fill="#555">1</tspan></text>
<path d="M65.6 172.3H80" stroke="#ff9a1e" stroke-width="1.2"/>
<text x="82" y="174.6" font-size="6.8" fill="#2a2a2a">60 mV s<tspan font-size="4.4" dy="-3.4" fill="#888"> -</tspan><tspan font-size="4.4" fill="#555">1</tspan></text>
<path d="M113 172.3H128" stroke="#ff2cff" stroke-width="1.2"/>
<text x="130" y="174.6" font-size="6.8" fill="#2a2a2a">80 mV s<tspan font-size="4.4" dy="-3.4" fill="#888"> -</tspan><tspan font-size="4.4" fill="#555">1</tspan></text>
<path d="M160.6 172.3H176" stroke="#9a2aa0" stroke-width="1.2"/>
<text x="177.6" y="174.6" font-size="6.8" fill="#2a2a2a">100 mV s<tspan font-size="4.4" dy="-3.4" fill="#888"> -</tspan><tspan font-size="4.4" fill="#555">1</tspan></text>
<path d="M212 172.3H227" stroke="#27279e" stroke-width="1.2"/>
<text x="228.8" y="174.6" font-size="6.8" fill="#2a2a2a">200 mV s<tspan font-size="4.4" dy="-3.4" fill="#888"> -</tspan><tspan font-size="4.4" fill="#555">1</tspan></text>
<text x="4.4" y="18.9" font-size="10.3" text-anchor="start" font-weight="bold" fill="#111" textLength="11.8" lengthAdjust="spacingAndGlyphs">(a)</text>
<text x="47.4" y="19.2" font-size="9.4" text-anchor="start" font-weight="bold" fill="#111" textLength="27" lengthAdjust="spacingAndGlyphs">BMA5</text>
<text transform="translate(113.2 201.3) scale(0.935 1)" font-size="9.6" font-weight="bold" fill="#111" textLength="103.1" lengthAdjust="spacingAndGlyphs">Overpotential, &#951; (mV)</text>
<text transform="translate(13.6 89.7) rotate(-90) scale(1.07 1)" font-size="8.6" font-weight="bold" fill="#111" text-anchor="middle">j (mA cm<tspan font-size="5.5" dy="-3.2">-2</tspan><tspan dy="3.2">)</tspan></text>
<path d="M318.4 9.7H546.4" stroke="#444" stroke-width="1.2" fill="none"/>
<path d="M545.8 9.7V178.2" stroke="#7a7a7a" stroke-width="1.3" fill="none"/>
<path d="M318.4 178.2H546.4" stroke="#7a7a7a" stroke-width="1.2" fill="none"/>
<path d="M318.4 9.1V178.8" stroke="#222" stroke-width="1.25" fill="none"/>
<text x="313.2" y="180.3" font-size="6.7" text-anchor="end" font-weight="normal" fill="#3a3a3a">-0.0008</text>
<text x="313.2" y="159.24" font-size="6.7" text-anchor="end" font-weight="normal" fill="#3a3a3a">-0.0006</text>
<text x="313.2" y="138.17" font-size="6.7" text-anchor="end" font-weight="normal" fill="#3a3a3a">-0.0004</text>
<text x="313.2" y="117.11" font-size="6.7" text-anchor="end" font-weight="normal" fill="#3a3a3a">-0.0002</text>
<text x="313.2" y="96.05" font-size="6.7" text-anchor="end" font-weight="normal" fill="#3a3a3a">0.0000</text>
<text x="313.2" y="74.99" font-size="6.7" text-anchor="end" font-weight="normal" fill="#3a3a3a">0.0002</text>
<text x="313.2" y="53.92" font-size="6.7" text-anchor="end" font-weight="normal" fill="#3a3a3a">0.0004</text>
<text x="313.2" y="32.86" font-size="6.7" text-anchor="end" font-weight="normal" fill="#3a3a3a">0.0006</text>
<text x="313.2" y="11.8" font-size="6.7" text-anchor="end" font-weight="normal" fill="#3a3a3a">0.0008</text>
<path d="M315.2 178.2H318.4M316.4 173.99H318.4M316.4 169.77H318.4M316.4 165.56H318.4M316.4 161.35H318.4M315.2 157.14H318.4M316.4 152.92H318.4M316.4 148.71H318.4M316.4 144.5H318.4M316.4 140.29H318.4M315.2 136.07H318.4M316.4 131.86H318.4M316.4 127.65H318.4M316.4 123.44H318.4M316.4 119.23H318.4M315.2 115.01H318.4M316.4 110.8H318.4M316.4 106.59H318.4M316.4 102.38H318.4M316.4 98.16H318.4M315.2 93.95H318.4M316.4 89.74H318.4M316.4 85.53H318.4M316.4 81.31H318.4M316.4 77.1H318.4M315.2 72.89H318.4M316.4 68.68H318.4M316.4 64.46H318.4M316.4 60.25H318.4M316.4 56.04H318.4M315.2 51.82H318.4M316.4 47.61H318.4M316.4 43.4H318.4M316.4 39.19H318.4M316.4 34.98H318.4M315.2 30.76H318.4M316.4 26.55H318.4M316.4 22.34H318.4M316.4 18.13H318.4M316.4 13.91H318.4M315.2 9.7H318.4" stroke="#1a1a1a" stroke-width="0.9"/>
<text x="318.4" y="189.1" font-size="6.5" text-anchor="middle" font-weight="normal" fill="#3a3a3a">0</text>
<text x="370.08" y="189.1" font-size="6.5" text-anchor="middle" font-weight="normal" fill="#3a3a3a">50</text>
<text x="421.76" y="189.1" font-size="6.5" text-anchor="middle" font-weight="normal" fill="#3a3a3a">100</text>
<text x="473.45" y="189.1" font-size="6.5" text-anchor="middle" font-weight="normal" fill="#3a3a3a">150</text>
<text x="525.13" y="189.1" font-size="6.5" text-anchor="middle" font-weight="normal" fill="#3a3a3a">200</text>
<path d="M318.4 178.2V181.4M370.08 178.2V181.4M421.76 178.2V181.4M473.45 178.2V181.4M525.13 178.2V181.4M328.74 178.2V180.4M339.07 178.2V180.4M349.41 178.2V180.4M359.75 178.2V180.4M380.42 178.2V180.4M390.75 178.2V180.4M401.09 178.2V180.4M411.43 178.2V180.4M432.1 178.2V180.4M442.44 178.2V180.4M452.77 178.2V180.4M463.11 178.2V180.4M483.78 178.2V180.4M494.12 178.2V180.4M504.45 178.2V180.4M514.79 178.2V180.4M535.46 178.2V180.4M545.8 178.2V180.4" stroke="#1a1a1a" stroke-width="0.9"/>
<polyline points="339.07,84.27 525.13,29.45" fill="none" stroke="#111" stroke-width="1" stroke-linejoin="round"/>
<rect x="337.27" y="84.03" width="3.6" height="3.6" fill="#000"/>
<rect x="347.61" y="79.62" width="3.6" height="3.6" fill="#000"/>
<rect x="357.95" y="76.35" width="3.6" height="3.6" fill="#000"/>
<rect x="368.28" y="72.98" width="3.6" height="3.6" fill="#000"/>
<rect x="378.62" y="69.61" width="3.6" height="3.6" fill="#000"/>
<rect x="399.29" y="63.51" width="3.6" height="3.6" fill="#000"/>
<rect x="419.96" y="57.29" width="3.6" height="3.6" fill="#000"/>
<rect x="523.33" y="28.44" width="3.6" height="3.6" fill="#000"/>
<polyline points="339.07,102.9 525.13,158.87" fill="none" stroke="#111" stroke-width="1" stroke-linejoin="round"/>
<rect x="337.27" y="100.36" width="3.6" height="3.6" fill="#000"/>
<rect x="347.61" y="103.73" width="3.6" height="3.6" fill="#000"/>
<rect x="357.95" y="107.21" width="3.6" height="3.6" fill="#000"/>
<rect x="368.28" y="110.58" width="3.6" height="3.6" fill="#000"/>
<rect x="378.62" y="113.95" width="3.6" height="3.6" fill="#000"/>
<rect x="399.29" y="120.58" width="3.6" height="3.6" fill="#000"/>
<rect x="419.96" y="126.48" width="3.6" height="3.6" fill="#000"/>
<rect x="523.33" y="156.5" width="3.6" height="3.6" fill="#000"/>
<text x="277.3" y="19.3" font-size="10.3" text-anchor="start" font-weight="bold" fill="#111" textLength="12" lengthAdjust="spacingAndGlyphs">(b)</text>
<text x="320.4" y="18.8" font-size="9.4" text-anchor="start" font-weight="bold" fill="#111" textLength="27.2" lengthAdjust="spacingAndGlyphs">BMA5</text>
<text transform="translate(285.2 83.2) rotate(-90)" font-size="8.6" font-weight="bold" fill="#111" text-anchor="middle">i (mA)</text>
<text x="388.7" y="204.9" font-size="9" font-weight="bold" fill="#111">Scan Rate, v (mV s<tspan font-size="5.6" dy="-3.4" fill="#777">-</tspan><tspan font-size="5.6">1</tspan><tspan dy="3.4">)</tspan></text>
<text x="494.6" y="49.8" font-size="8.2" fill="#222">2.91 <tspan fill="#334" font-size="7">&#956;</tspan>F</text>
<text x="488.7" y="61.8" font-size="8.4" fill="#222">R<tspan font-size="4.8" dy="-3.6">2</tspan><tspan dy="3.6"> = 0.998</tspan></text>
<text x="492.6" y="130.1" font-size="8.2" fill="#222">2.96 <tspan fill="#334" font-size="7">&#956;</tspan>F</text>
<text x="486.8" y="141.2" font-size="8.4" fill="#222">R<tspan font-size="4.8" dy="-3.6">2</tspan><tspan dy="3.6"> = 0.998</tspan></text>
<path d="M46.5 211.3H274.4" stroke="#444" stroke-width="1.2" fill="none"/>
<path d="M273.8 211.3V379.2" stroke="#7a7a7a" stroke-width="1.3" fill="none"/>
<path d="M46.5 379.2H274.4" stroke="#7a7a7a" stroke-width="1.2" fill="none"/>
<path d="M46.5 210.7V379.8" stroke="#222" stroke-width="1.25" fill="none"/>
<text x="40.9" y="381.25" font-size="6.7" text-anchor="end" font-weight="normal" fill="#3a3a3a">-0.20</text>
<text x="40.9" y="364.46" font-size="6.7" text-anchor="end" font-weight="normal" fill="#3a3a3a">-0.16</text>
<text x="40.9" y="347.67" font-size="6.7" text-anchor="end" font-weight="normal" fill="#3a3a3a">-0.12</text>
<text x="40.9" y="330.88" font-size="6.7" text-anchor="end" font-weight="normal" fill="#3a3a3a">-0.08</text>
<text x="40.9" y="314.09" font-size="6.7" text-anchor="end" font-weight="normal" fill="#3a3a3a">-0.04</text>
<text x="40.9" y="297.3" font-size="6.7" text-anchor="end" font-weight="normal" fill="#3a3a3a">0.00</text>
<text x="40.9" y="280.51" font-size="6.7" text-anchor="end" font-weight="normal" fill="#3a3a3a">0.04</text>
<text x="40.9" y="263.72" font-size="6.7" text-anchor="end" font-weight="normal" fill="#3a3a3a">0.08</text>
<text x="40.9" y="246.93" font-size="6.7" text-anchor="end" font-weight="normal" fill="#3a3a3a">0.12</text>
<text x="40.9" y="230.14" font-size="6.7" text-anchor="end" font-weight="normal" fill="#3a3a3a">0.16</text>
<text x="40.9" y="213.35" font-size="6.7" text-anchor="end" font-weight="normal" fill="#3a3a3a">0.20</text>
<path d="M43.3 379.2H46.5M44.5 375.84H46.5M44.5 372.48H46.5M44.5 369.13H46.5M44.5 365.77H46.5M43.3 362.41H46.5M44.5 359.05H46.5M44.5 355.69H46.5M44.5 352.34H46.5M44.5 348.98H46.5M43.3 345.62H46.5M44.5 342.26H46.5M44.5 338.9H46.5M44.5 335.55H46.5M44.5 332.19H46.5M43.3 328.83H46.5M44.5 325.47H46.5M44.5 322.11H46.5M44.5 318.76H46.5M44.5 315.4H46.5M43.3 312.04H46.5M44.5 308.68H46.5M44.5 305.32H46.5M44.5 301.97H46.5M44.5 298.61H46.5M43.3 295.25H46.5M44.5 291.89H46.5M44.5 288.53H46.5M44.5 285.18H46.5M44.5 281.82H46.5M43.3 278.46H46.5M44.5 275.1H46.5M44.5 271.74H46.5M44.5 268.39H46.5M44.5 265.03H46.5M43.3 261.67H46.5M44.5 258.31H46.5M44.5 254.95H46.5M44.5 251.6H46.5M44.5 248.24H46.5M43.3 244.88H46.5M44.5 241.52H46.5M44.5 238.16H46.5M44.5 234.81H46.5M44.5 231.45H46.5M43.3 228.09H46.5M44.5 224.73H46.5M44.5 221.37H46.5M44.5 218.02H46.5M44.5 214.66H46.5M43.3 211.3H46.5" stroke="#1a1a1a" stroke-width="0.9"/>
<text x="46.5" y="390.2" font-size="6.5" text-anchor="middle" font-weight="normal" fill="#3a3a3a">0</text>
<text x="98.16" y="390.2" font-size="6.5" text-anchor="middle" font-weight="normal" fill="#3a3a3a">50</text>
<text x="149.82" y="390.2" font-size="6.5" text-anchor="middle" font-weight="normal" fill="#3a3a3a">100</text>
<text x="201.48" y="390.2" font-size="6.5" text-anchor="middle" font-weight="normal" fill="#3a3a3a">150</text>
<text x="253.14" y="390.2" font-size="6.5" text-anchor="middle" font-weight="normal" fill="#3a3a3a">200</text>
<path d="M46.5 379.2V382.4M98.16 379.2V382.4M149.82 379.2V382.4M201.48 379.2V382.4M253.14 379.2V382.4M56.83 379.2V381.4M67.16 379.2V381.4M77.5 379.2V381.4M87.83 379.2V381.4M108.49 379.2V381.4M118.82 379.2V381.4M129.15 379.2V381.4M139.49 379.2V381.4M160.15 379.2V381.4M170.48 379.2V381.4M180.81 379.2V381.4M191.15 379.2V381.4M211.81 379.2V381.4M222.14 379.2V381.4M232.47 379.2V381.4M242.8 379.2V381.4M263.47 379.2V381.4M273.8 379.2V381.4" stroke="#1a1a1a" stroke-width="0.9"/>
<polyline points="67.16,294.45 253.14,288.41" fill="none" stroke="#3040ff" stroke-width="1.15" stroke-linejoin="round"/>
<rect x="65.16" y="292.45" width="4" height="4" fill="#1a1aff"/>
<rect x="75.5" y="292.12" width="4" height="4" fill="#1a1aff"/>
<rect x="85.83" y="291.78" width="4" height="4" fill="#1a1aff"/>
<rect x="96.16" y="291.45" width="4" height="4" fill="#1a1aff"/>
<rect x="106.49" y="291.11" width="4" height="4" fill="#1a1aff"/>
<rect x="127.15" y="290.44" width="4" height="4" fill="#1a1aff"/>
<rect x="147.82" y="289.77" width="4" height="4" fill="#1a1aff"/>
<rect x="251.14" y="286.41" width="4" height="4" fill="#1a1aff"/>
<polyline points="67.16,296.01 253.14,302.05" fill="none" stroke="#3040ff" stroke-width="1.15" stroke-linejoin="round"/>
<rect x="65.16" y="294.01" width="4" height="4" fill="#1a1aff"/>
<rect x="75.5" y="294.34" width="4" height="4" fill="#1a1aff"/>
<rect x="85.83" y="294.68" width="4" height="4" fill="#1a1aff"/>
<rect x="96.16" y="295.01" width="4" height="4" fill="#1a1aff"/>
<rect x="106.49" y="295.35" width="4" height="4" fill="#1a1aff"/>
<rect x="127.15" y="296.02" width="4" height="4" fill="#1a1aff"/>
<rect x="147.82" y="296.69" width="4" height="4" fill="#1a1aff"/>
<rect x="251.14" y="300.05" width="4" height="4" fill="#1a1aff"/>
<polyline points="67.16,288.27 253.14,241.31" fill="none" stroke="#35a535" stroke-width="1.15" stroke-linejoin="round"/>
<rect x="65.16" y="287.08" width="4" height="4" fill="#0a7a0a"/>
<rect x="75.5" y="283.81" width="4" height="4" fill="#0a7a0a"/>
<rect x="85.83" y="281.2" width="4" height="4" fill="#0a7a0a"/>
<rect x="96.16" y="277.89" width="4" height="4" fill="#0a7a0a"/>
<rect x="106.49" y="275.45" width="4" height="4" fill="#0a7a0a"/>
<rect x="127.15" y="270.67" width="4" height="4" fill="#0a7a0a"/>
<rect x="147.82" y="264.75" width="4" height="4" fill="#0a7a0a"/>
<rect x="251.14" y="239.73" width="4" height="4" fill="#0a7a0a"/>
<polyline points="67.16,301.66 253.14,349.2" fill="none" stroke="#35a535" stroke-width="1.15" stroke-linejoin="round"/>
<rect x="65.16" y="299.13" width="4" height="4" fill="#0a7a0a"/>
<rect x="75.5" y="301.9" width="4" height="4" fill="#0a7a0a"/>
<rect x="85.83" y="305" width="4" height="4" fill="#0a7a0a"/>
<rect x="96.16" y="307.82" width="4" height="4" fill="#0a7a0a"/>
<rect x="106.49" y="310.71" width="4" height="4" fill="#0a7a0a"/>
<rect x="127.15" y="315.5" width="4" height="4" fill="#0a7a0a"/>
<rect x="147.82" y="321.29" width="4" height="4" fill="#0a7a0a"/>
<rect x="251.14" y="346.85" width="4" height="4" fill="#0a7a0a"/>
<polyline points="67.16,281.67 253.14,217.89" fill="none" stroke="#ff3030" stroke-width="1.15" stroke-linejoin="round"/>
<rect x="65.16" y="281.58" width="4" height="4" fill="#ff2020"/>
<rect x="75.5" y="276.8" width="4" height="4" fill="#ff2020"/>
<rect x="85.83" y="272.47" width="4" height="4" fill="#ff2020"/>
<rect x="96.16" y="268.48" width="4" height="4" fill="#ff2020"/>
<rect x="106.49" y="264.58" width="4" height="4" fill="#ff2020"/>
<rect x="127.15" y="257.57" width="4" height="4" fill="#ff2020"/>
<rect x="147.82" y="250.02" width="4" height="4" fill="#ff2020"/>
<rect x="251.14" y="217.02" width="4" height="4" fill="#ff2020"/>
<polyline points="67.16,308.57 253.14,371.73" fill="none" stroke="#ff3030" stroke-width="1.15" stroke-linejoin="round"/>
<rect x="65.16" y="304.74" width="4" height="4" fill="#ff2020"/>
<rect x="75.5" y="309.46" width="4" height="4" fill="#ff2020"/>
<rect x="85.83" y="313.72" width="4" height="4" fill="#ff2020"/>
<rect x="96.16" y="317.64" width="4" height="4" fill="#ff2020"/>
<rect x="106.49" y="321.49" width="4" height="4" fill="#ff2020"/>
<rect x="127.15" y="328.39" width="4" height="4" fill="#ff2020"/>
<rect x="147.82" y="335.84" width="4" height="4" fill="#ff2020"/>
<rect x="251.14" y="368.68" width="4" height="4" fill="#ff2020"/>
<path d="M317.5 210.7H545.4" stroke="#444" stroke-width="1.2" fill="none"/>
<path d="M544.8 210.7V379" stroke="#7a7a7a" stroke-width="1.3" fill="none"/>
<path d="M317.5 379H545.4" stroke="#7a7a7a" stroke-width="1.2" fill="none"/>
<path d="M317.5 210.1V379.6" stroke="#222" stroke-width="1.25" fill="none"/>
<text x="311.9" y="381.05" font-size="6.7" text-anchor="end" font-weight="normal" fill="#3a3a3a">-0.20</text>
<text x="311.9" y="364.22" font-size="6.7" text-anchor="end" font-weight="normal" fill="#3a3a3a">-0.16</text>
<text x="311.9" y="347.39" font-size="6.7" text-anchor="end" font-weight="normal" fill="#3a3a3a">-0.12</text>
<text x="311.9" y="330.56" font-size="6.7" text-anchor="end" font-weight="normal" fill="#3a3a3a">-0.08</text>
<text x="311.9" y="313.73" font-size="6.7" text-anchor="end" font-weight="normal" fill="#3a3a3a">-0.04</text>
<text x="311.9" y="296.9" font-size="6.7" text-anchor="end" font-weight="normal" fill="#3a3a3a">0.00</text>
<text x="311.9" y="280.07" font-size="6.7" text-anchor="end" font-weight="normal" fill="#3a3a3a">0.04</text>
<text x="311.9" y="263.24" font-size="6.7" text-anchor="end" font-weight="normal" fill="#3a3a3a">0.08</text>
<text x="311.9" y="246.41" font-size="6.7" text-anchor="end" font-weight="normal" fill="#3a3a3a">0.12</text>
<text x="311.9" y="229.58" font-size="6.7" text-anchor="end" font-weight="normal" fill="#3a3a3a">0.16</text>
<text x="311.9" y="212.75" font-size="6.7" text-anchor="end" font-weight="normal" fill="#3a3a3a">0.20</text>
<path d="M314.3 379H317.5M315.5 375.63H317.5M315.5 372.27H317.5M315.5 368.9H317.5M315.5 365.54H317.5M314.3 362.17H317.5M315.5 358.8H317.5M315.5 355.44H317.5M315.5 352.07H317.5M315.5 348.71H317.5M314.3 345.34H317.5M315.5 341.97H317.5M315.5 338.61H317.5M315.5 335.24H317.5M315.5 331.88H317.5M314.3 328.51H317.5M315.5 325.14H317.5M315.5 321.78H317.5M315.5 318.41H317.5M315.5 315.05H317.5M314.3 311.68H317.5M315.5 308.31H317.5M315.5 304.95H317.5M315.5 301.58H317.5M315.5 298.22H317.5M314.3 294.85H317.5M315.5 291.48H317.5M315.5 288.12H317.5M315.5 284.75H317.5M315.5 281.39H317.5M314.3 278.02H317.5M315.5 274.65H317.5M315.5 271.29H317.5M315.5 267.92H317.5M315.5 264.56H317.5M314.3 261.19H317.5M315.5 257.82H317.5M315.5 254.46H317.5M315.5 251.09H317.5M315.5 247.73H317.5M314.3 244.36H317.5M315.5 240.99H317.5M315.5 237.63H317.5M315.5 234.26H317.5M315.5 230.9H317.5M314.3 227.53H317.5M315.5 224.16H317.5M315.5 220.8H317.5M315.5 217.43H317.5M315.5 214.07H317.5M314.3 210.7H317.5" stroke="#1a1a1a" stroke-width="0.9"/>
<text x="317.5" y="390" font-size="6.5" text-anchor="middle" font-weight="normal" fill="#3a3a3a">0</text>
<text x="369.16" y="390" font-size="6.5" text-anchor="middle" font-weight="normal" fill="#3a3a3a">50</text>
<text x="420.82" y="390" font-size="6.5" text-anchor="middle" font-weight="normal" fill="#3a3a3a">100</text>
<text x="472.48" y="390" font-size="6.5" text-anchor="middle" font-weight="normal" fill="#3a3a3a">150</text>
<text x="524.14" y="390" font-size="6.5" text-anchor="middle" font-weight="normal" fill="#3a3a3a">200</text>
<path d="M317.5 379V382.2M369.16 379V382.2M420.82 379V382.2M472.48 379V382.2M524.14 379V382.2M327.83 379V381.2M338.16 379V381.2M348.5 379V381.2M358.83 379V381.2M379.49 379V381.2M389.82 379V381.2M400.15 379V381.2M410.49 379V381.2M431.15 379V381.2M441.48 379V381.2M451.81 379V381.2M462.15 379V381.2M482.81 379V381.2M493.14 379V381.2M503.47 379V381.2M513.8 379V381.2M534.47 379V381.2M544.8 379V381.2" stroke="#1a1a1a" stroke-width="0.9"/>
<polyline points="338.16,294.05 524.14,287.61" fill="none" stroke="#3040ff" stroke-width="1.15" stroke-linejoin="round"/>
<rect x="336.16" y="292.05" width="4" height="4" fill="#1a1aff"/>
<rect x="346.5" y="291.69" width="4" height="4" fill="#1a1aff"/>
<rect x="356.83" y="291.34" width="4" height="4" fill="#1a1aff"/>
<rect x="367.16" y="290.98" width="4" height="4" fill="#1a1aff"/>
<rect x="377.49" y="290.62" width="4" height="4" fill="#1a1aff"/>
<rect x="398.15" y="289.9" width="4" height="4" fill="#1a1aff"/>
<rect x="418.82" y="289.19" width="4" height="4" fill="#1a1aff"/>
<rect x="522.14" y="285.61" width="4" height="4" fill="#1a1aff"/>
<polyline points="338.16,295.65 524.14,302.09" fill="none" stroke="#3040ff" stroke-width="1.15" stroke-linejoin="round"/>
<rect x="336.16" y="293.65" width="4" height="4" fill="#1a1aff"/>
<rect x="346.5" y="294.01" width="4" height="4" fill="#1a1aff"/>
<rect x="356.83" y="294.36" width="4" height="4" fill="#1a1aff"/>
<rect x="367.16" y="294.72" width="4" height="4" fill="#1a1aff"/>
<rect x="377.49" y="295.08" width="4" height="4" fill="#1a1aff"/>
<rect x="398.15" y="295.8" width="4" height="4" fill="#1a1aff"/>
<rect x="418.82" y="296.51" width="4" height="4" fill="#1a1aff"/>
<rect x="522.14" y="300.09" width="4" height="4" fill="#1a1aff"/>
<polyline points="338.16,286.69 524.14,233.69" fill="none" stroke="#35a535" stroke-width="1.15" stroke-linejoin="round"/>
<rect x="336.16" y="285.57" width="4" height="4" fill="#0a7a0a"/>
<rect x="346.5" y="282.29" width="4" height="4" fill="#0a7a0a"/>
<rect x="356.83" y="278.97" width="4" height="4" fill="#0a7a0a"/>
<rect x="367.16" y="275.47" width="4" height="4" fill="#0a7a0a"/>
<rect x="377.49" y="272.44" width="4" height="4" fill="#0a7a0a"/>
<rect x="398.15" y="266.34" width="4" height="4" fill="#0a7a0a"/>
<rect x="418.82" y="260.45" width="4" height="4" fill="#0a7a0a"/>
<rect x="522.14" y="232.35" width="4" height="4" fill="#0a7a0a"/>
<polyline points="338.16,302.61 524.14,354.89" fill="none" stroke="#35a535" stroke-width="1.15" stroke-linejoin="round"/>
<rect x="336.16" y="299.71" width="4" height="4" fill="#0a7a0a"/>
<rect x="346.5" y="302.95" width="4" height="4" fill="#0a7a0a"/>
<rect x="356.83" y="306.31" width="4" height="4" fill="#0a7a0a"/>
<rect x="367.16" y="309.68" width="4" height="4" fill="#0a7a0a"/>
<rect x="377.49" y="312.63" width="4" height="4" fill="#0a7a0a"/>
<rect x="398.15" y="318.73" width="4" height="4" fill="#0a7a0a"/>
<rect x="418.82" y="324.7" width="4" height="4" fill="#0a7a0a"/>
<rect x="522.14" y="352.18" width="4" height="4" fill="#0a7a0a"/>
<polyline points="338.16,283.07 524.14,214.29" fill="none" stroke="#ff3030" stroke-width="1.15" stroke-linejoin="round"/>
<rect x="336.16" y="282.67" width="4" height="4" fill="#ff2020"/>
<rect x="346.5" y="277.87" width="4" height="4" fill="#ff2020"/>
<rect x="356.83" y="273.58" width="4" height="4" fill="#ff2020"/>
<rect x="367.16" y="269.16" width="4" height="4" fill="#ff2020"/>
<rect x="377.49" y="264.74" width="4" height="4" fill="#ff2020"/>
<rect x="398.15" y="257.51" width="4" height="4" fill="#ff2020"/>
<rect x="418.82" y="249.22" width="4" height="4" fill="#ff2020"/>
<rect x="522.14" y="213.33" width="4" height="4" fill="#ff2020"/>
<polyline points="338.16,306.27 524.14,375.72" fill="none" stroke="#ff3030" stroke-width="1.15" stroke-linejoin="round"/>
<rect x="336.16" y="302.82" width="4" height="4" fill="#ff2020"/>
<rect x="346.5" y="307.58" width="4" height="4" fill="#ff2020"/>
<rect x="356.83" y="311.87" width="4" height="4" fill="#ff2020"/>
<rect x="367.16" y="316.29" width="4" height="4" fill="#ff2020"/>
<rect x="377.49" y="320.62" width="4" height="4" fill="#ff2020"/>
<rect x="398.15" y="327.98" width="4" height="4" fill="#ff2020"/>
<rect x="418.82" y="336.27" width="4" height="4" fill="#ff2020"/>
<rect x="522.14" y="372.79" width="4" height="4" fill="#ff2020"/>
<rect x="51.4" y="343.3" width="82.1" height="32.2" fill="none" stroke="#8a8a8a" stroke-width="0.8"/>
<rect x="64.1" y="347.8" width="3.6" height="3.6" fill="#1a1aff"/>
<text x="74.8" y="351.8" font-size="6.8" fill="#333">Untreated</text>
<rect x="64.1" y="357.4" width="3.6" height="3.6" fill="#ff2020"/>
<text x="74.8" y="361.4" font-size="6.8" fill="#333">CB 0.3 mg cm<tspan font-size="4.4" dy="-3.4" fill="#555">-2</tspan></text>
<rect x="64.1" y="367.4" width="3.6" height="3.6" fill="#0a7a0a"/>
<text x="74.8" y="371.4" font-size="6.8" fill="#333">GnP 0.3 mg cm<tspan font-size="4.4" dy="-3.4" fill="#555">-2</tspan></text>
<rect x="321.8" y="343.3" width="90" height="32.9" fill="none" stroke="#8a8a8a" stroke-width="0.8"/>
<rect x="334.9" y="347.5" width="3.6" height="3.6" fill="#1a1aff"/>
<text x="346.2" y="351.5" font-size="6.8" fill="#333">Untreated</text>
<rect x="334.9" y="357.4" width="3.6" height="3.6" fill="#ff2020"/>
<text x="346.2" y="361.4" font-size="6.8" fill="#333">PBX51 0.3 mg cm<tspan font-size="4.4" dy="-3.4" fill="#555">-2</tspan></text>
<rect x="334.9" y="367.3" width="3.6" height="3.6" fill="#0a7a0a"/>
<text x="346.2" y="371.3" font-size="6.8" fill="#333">GnP 0.3 mg cm<tspan font-size="4.4" dy="-3.4" fill="#555">-2</tspan></text>
<text x="10.2" y="219.6" font-size="10.3" text-anchor="start" font-weight="bold" fill="#111" textLength="11.4" lengthAdjust="spacingAndGlyphs">(c)</text>
<text x="47.6" y="219.6" font-size="9.4" text-anchor="start" font-weight="bold" fill="#111" textLength="23.9" lengthAdjust="spacingAndGlyphs">29AA</text>
<text x="278.2" y="217.5" font-size="10.3" text-anchor="start" font-weight="bold" fill="#111" textLength="14.5" lengthAdjust="spacingAndGlyphs">(d)</text>
<text x="318.6" y="219.6" font-size="9.4" text-anchor="start" font-weight="bold" fill="#111" textLength="39.5" lengthAdjust="spacingAndGlyphs">HCB1071</text>
<text transform="translate(20.3 284.7) rotate(-90)" font-size="8.6" font-weight="bold" fill="#111" text-anchor="middle">i (mA)</text>
<text transform="translate(290.6 284.3) rotate(-90)" font-size="8.6" font-weight="bold" fill="#111" text-anchor="middle">i (mA)</text>
<text x="116.6" y="401.5" font-size="9" font-weight="bold" fill="#111">Scan Rate, v (mV s<tspan font-size="5.6" dy="-3.4">-1</tspan><tspan dy="3.4">)</tspan></text>
<text x="387.5" y="400.6" font-size="9" font-weight="bold" fill="#111">Scan Rate, v (mV s<tspan font-size="5.6" dy="-3.4" fill="#777">-</tspan><tspan font-size="5.6">1</tspan><tspan dy="3.4">)</tspan></text>
</svg></body></html>
